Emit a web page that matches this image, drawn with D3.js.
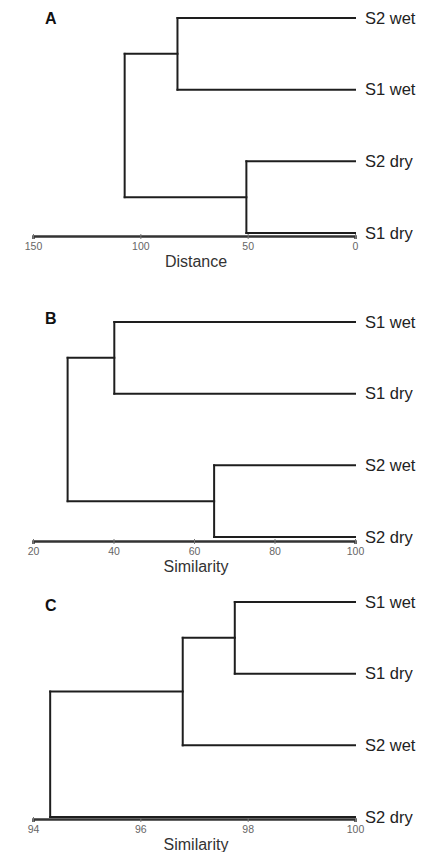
<!DOCTYPE html>
<html>
<head>
<meta charset="utf-8">
<script src="https://cdn.jsdelivr.net/npm/d3@7"></script>
<style>
  html, body { margin: 0; padding: 0; background: #fff; }
  svg { display: block; font-family: "Liberation Sans", Arial, sans-serif; }
</style>
</head>
<body>
<svg id="chart" width="438" height="852"></svg>
<script>
// 数据：每个面板的叶子顺序和合并高度（类似 hclust 的 merge 格式）
const leavesA = ["S2 wet", "S1 wet", "S2 dry", "S1 dry"];
const mergesA = [[0, 1, 82.7], [2, 3, 50.6], [4, 5, 107.3]];
const domainA = [150, 0];
const ticksA = [150, 100, 50, 0];

const leavesB = ["S1 wet", "S1 dry", "S2 wet", "S2 dry"];
const mergesB = [[0, 1, 40.2], [2, 3, 65.0], [4, 5, 28.6]];
const domainB = [20, 100];
const ticksB = [20, 40, 60, 80, 100];

const leavesC = ["S1 wet", "S1 dry", "S2 wet", "S2 dry"];
const mergesC = [[0, 1, 97.76], [4, 2, 96.79], [5, 3, 94.32]];
const domainC = [94, 100];
const ticksC = [94, 96, 98, 100];

const svg = d3.select("#chart");
const stroke = "#1e1e1e";

const panels = [
    { tag: "A", leaves: leavesA, merges: mergesA, domain: domainA, ticks: ticksA, title: "Distance", top: 18, axisY: 236, tagY: 18 },
    { tag: "B", leaves: leavesB, merges: mergesB, domain: domainB, ticks: ticksB, title: "Similarity", top: 322, axisY: 541, tagY: 318 },
    { tag: "C", leaves: leavesC, merges: mergesC, domain: domainC, ticks: ticksC, title: "Similarity", top: 602, axisY: 819, tagY: 605 }
];

panels.forEach(p => drawPanel(p));

function drawPanel(p) {
    const g = svg.append("g");

    const x = d3.scaleLinear().domain(p.domain).range([33, 355]);
    const y = d3.scalePoint().domain(p.leaves).range([p.top, p.top + 215]);

    // 叶子节点位置：在相似度/距离的"零"端
    const leafVal = p.domain[1];
    const nodes = p.leaves.map(name => ({ name, v: leafVal, y: y(name) }));

    // 合并节点
    const segs = [];
    p.merges.forEach(([a, b, h]) => {
        const na = nodes[a], nb = nodes[b];
        segs.push([na.v, na.y, h, na.y]);
        segs.push([nb.v, nb.y, h, nb.y]);
        segs.push([h, na.y, h, nb.y]);
        nodes.push({ v: h, y: (na.y + nb.y) / 2 });
    });

    // 坐标轴
    const axis = d3.axisBottom(x)
        .tickValues(p.ticks)
        .tickSize(3)
        .tickPadding(4)
        .tickFormat(d3.format("d"));
    const ax = g.append("g")
        .attr("transform", `translate(0,${p.axisY})`)
        .call(axis);
    ax.select(".domain")
        .attr("stroke", "#333")
        .attr("stroke-width", 2.5);
    ax.selectAll(".tick line")
        .attr("stroke", "#777")
        .attr("y1", -2);
    ax.selectAll(".tick text")
        .attr("fill", "#666")
        .style("font-size", "10.5px");

    g.append("text")
        .attr("x", 196)
        .attr("y", p.axisY + 25)
        .attr("dy", "0.35em")
        .attr("text-anchor", "middle")
        .attr("fill", "#333")
        .style("font-size", "16px")
        .text(p.title);

    // 树枝
    g.selectAll("line.branch")
        .data(segs)
        .join("line")
        .attr("class", "branch")
        .attr("x1", d => x(d[0]))
        .attr("y1", d => d[1])
        .attr("x2", d => x(d[2]))
        .attr("y2", d => d[3])
        .attr("stroke", stroke)
        .attr("stroke-width", 2)
        .attr("stroke-linecap", "square");

    // 叶子标签
    g.selectAll("text.leaf")
        .data(p.leaves)
        .join("text")
        .attr("class", "leaf")
        .attr("x", 365)
        .attr("y", d => y(d))
        .attr("dy", "0.35em")
        .attr("fill", "#222")
        .style("font-size", "16.5px")
        .text(d => d);

    // 面板字母
    g.append("text")
        .attr("x", 45)
        .attr("y", p.tagY)
        .attr("dy", "0.35em")
        .attr("fill", "#111")
        .style("font-size", "16px")
        .style("font-weight", "bold")
        .text(p.tag);
}
</script>
</body>
</html>
